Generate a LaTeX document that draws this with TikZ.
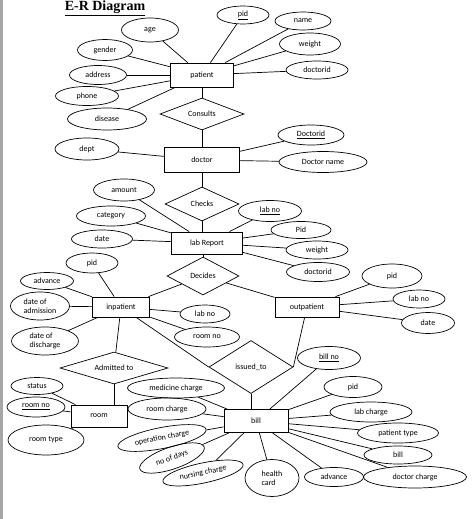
\documentclass[tikz,border=0pt]{standalone}
\usepackage{fontspec}
\setmainfont{Carlito}
\newfontfamily\titlefont{Liberation Serif}
\usetikzlibrary{shapes.geometric}
\begin{document}
\begin{tikzpicture}[x=1pt,y=-1pt,
  every node/.style={font=\fontsize{8}{9}\selectfont, inner sep=0pt},
  ent/.style={draw, rectangle, line width=0.8pt},
  attr/.style={draw, ellipse, line width=0.7pt},
  rel/.style={draw, diamond, aspect=3, line width=0.7pt},
  conn/.style={line width=0.7pt}]
\fill[white] (0,0) rectangle (474,519);
\useasboundingbox (0,0) rectangle (474,519);
\fill[gray!70] (0,0) rectangle (2.5,519);
\node[font=\titlefont\bfseries\fontsize{14}{16}\selectfont] (title) at (105,8) {\underline{E-R Diagram}};

% entities
\node[ent, minimum width=63, minimum height=24] (patient) at (202,75) {patient};
\node[ent, minimum width=75, minimum height=25] (doctor) at (202,160) {doctor};
\node[ent, minimum width=71, minimum height=22] (lab) at (207,243) {lab Report};
\node[ent, minimum width=57, minimum height=20] (inp) at (121,307) {inpatient};
\node[ent, minimum width=64, minimum height=20] (outp) at (307,307) {outpatient};
\node[ent, minimum width=56, minimum height=22] (room) at (99,416) {room};
\node[ent, minimum width=64, minimum height=23] (bill) at (256,421) {bill};

% relationships
\node[rel, minimum width=84, minimum height=32] (consults) at (202,114) {Consults};
\node[rel, minimum width=74, minimum height=34] (checks) at (202,204) {Checks};
\node[rel, minimum width=72, minimum height=38] (decides) at (203,276) {Decides};
\node[rel, minimum width=108, minimum height=32] (admitted) at (114,368) {Admitted to};
\node[rel, minimum width=84, minimum height=53] (issued) at (251,367) {issued\_to};

% patient attributes
\node[attr, minimum width=57, minimum height=24] (age) at (150,30) {age};
\node[attr, minimum width=55, minimum height=21] (gender) at (105,50) {gender};
\node[attr, minimum width=57, minimum height=19] (address) at (98,75) {address};
\node[attr, minimum width=63, minimum height=19] (phone) at (87,96) {phone};
\node[attr, minimum width=79, minimum height=22] (disease) at (107,119) {disease};
\node[attr, minimum width=52, minimum height=18] (ppid) at (243,15) {\underline{pid}};
\node[attr, minimum width=56, minimum height=18] (name) at (303,21) {name};
\node[attr, minimum width=61, minimum height=22] (weight) at (310,44) {weight};
\node[attr, minimum width=62, minimum height=18] (pdoc) at (317,70) {doctorid};

% doctor attributes
\node[attr, minimum width=64, minimum height=22] (dept) at (87,149) {dept};
\node[attr, minimum width=66, minimum height=20] (docid) at (311,135) {\underline{Doctorid}};
\node[attr, minimum width=88, minimum height=21] (docname) at (323,162) {Doctor name};

% lab report attributes
\node[attr, minimum width=61, minimum height=22] (amount) at (124,190) {amount};
\node[attr, minimum width=69, minimum height=20] (category) at (111,216) {category};
\node[attr, minimum width=61, minimum height=18] (ldate) at (102,239) {date};
\node[attr, minimum width=63, minimum height=21] (llabno) at (270,211) {\underline{lab no}};
\node[attr, minimum width=60, minimum height=17] (lpid) at (301,230) {Pid};
\node[attr, minimum width=62, minimum height=18] (lweight) at (317,250) {weight};
\node[attr, minimum width=63, minimum height=19] (ldoc) at (318,272) {doctorid};

% inpatient attributes
\node[attr, minimum width=52, minimum height=20] (ipid) at (92,263) {pid};
\node[attr, minimum width=53, minimum height=17] (iadv) at (47,281) {advance};
\node[attr, minimum width=59, minimum height=28, align=left] (idoa) at (40,306) {date of\\admission};
\node[attr, minimum width=67, minimum height=28, align=left] (idod) at (45,341) {date of\\discharge};
\node[attr, minimum width=50, minimum height=18] (ilab) at (205,314) {lab no};
\node[attr, minimum width=65, minimum height=20] (iroom) at (207,337) {room no};

% outpatient attributes
\node[attr, minimum width=60, minimum height=24] (opid) at (392,276) {pid};
\node[attr, minimum width=52, minimum height=18] (olab) at (419,299) {lab no};
\node[attr, minimum width=53, minimum height=21] (odate) at (428,323) {date};

% room attributes
\node[attr, minimum width=52, minimum height=17] (status) at (37,386) {status};
\node[attr, minimum width=58, minimum height=20] (rroomno) at (36,407) {\underline{room no}};
\node[attr, minimum width=76, minimum height=30] (rtype) at (46,440) {room type};

% bill attributes
\node[attr, minimum width=63, minimum height=23] (billno) at (329,358) {\underline{bill no}};
\node[attr, minimum width=58, minimum height=21] (bpid) at (353,387) {pid};
\node[attr, minimum width=82, minimum height=20] (blab) at (371,412) {lab charge};
\node[attr, minimum width=81, minimum height=20] (btype) at (398,433) {patient type};
\node[attr, minimum width=68, minimum height=18] (bbill) at (398,455) {bill};
\node[attr, minimum width=103, minimum height=22] (bdoc) at (415,477) {doctor charge};
\node[attr, minimum width=59, minimum height=19] (badv) at (334,477) {advance};
\node[attr, minimum width=54, minimum height=37, align=left] (bhealth) at (272,478) {health\\card};
\node[attr, minimum width=82, minimum height=20, rotate=12] (bnurse) at (203,473) {nursing charge};
\node[attr, minimum width=68, minimum height=22, rotate=19] (bdays) at (172,458) {no of days};
\node[attr, minimum width=90, minimum height=21, rotate=11] (bop) at (162,438) {operation charge};
\node[attr, minimum width=78, minimum height=22] (broom) at (167,409) {room charge};
\node[attr, minimum width=97, minimum height=20] (bmed) at (176,388) {medicine charge};

% connectors
\foreach \a in {age,gender,address,phone,disease,ppid,name,weight,pdoc}
  \draw[conn] (patient) -- (\a);
\draw[conn] (patient) -- (consults);
\draw[conn] (consults) -- (doctor);
\foreach \a in {dept,docid,docname}
  \draw[conn] (doctor) -- (\a);
\draw[conn] (doctor) -- (checks);
\draw[conn] (checks) -- (checks |- lab.north);
\foreach \a in {amount,category,ldate,llabno,lpid,lweight,ldoc}
  \draw[conn] (lab) -- (\a);
\draw[conn] (decides |- lab.south) -- (decides);
\draw[conn] (decides) -- (inp);
\draw[conn] (decides) -- (outp);
\foreach \a in {ipid,iadv,idoa,idod,ilab,iroom}
  \draw[conn] (inp) -- (\a);
\foreach \a in {opid,olab,odate}
  \draw[conn] (outp) -- (\a);
\draw[conn] (inp) -- (admitted);
\draw[conn] (admitted) -- (admitted |- room.north);
\foreach \a in {status,rroomno,rtype}
  \draw[conn] (room) -- (\a);
\draw[conn] (inp) -- (issued.west);
\draw[conn] (outp) -- (issued.east);
\draw[conn] (issued) -- (issued |- bill.north);
\foreach \a in {billno,bpid,blab,btype,bbill,bdoc,badv,bhealth,bnurse,bdays,bop,broom,bmed}
  \draw[conn] (bill) -- (\a);
\end{tikzpicture}
\end{document}
